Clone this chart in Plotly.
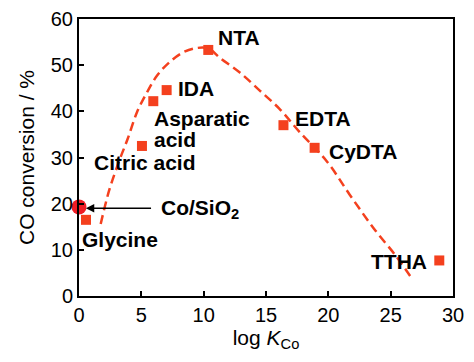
import plotly.graph_objects as go

# Data
ligands = ["Glycine", "Citric acid", "Asparatic acid", "IDA", "NTA", "EDTA", "CyDTA", "TTHA"]
log_k = [0.56, 5.05, 5.96, 7.03, 10.37, 16.4, 18.9, 28.9]
conversion = [16.5, 32.5, 42.2, 44.6, 53.3, 37.0, 32.1, 7.7]

ref_name = "Co/SiO2"
ref_x = [0.0]
ref_y = [19.3]

trend_x = [1.74, 2.4, 3.2, 3.9, 4.65, 5.45, 6.25, 7.2, 8.3, 9.4, 10.4, 11.3, 12.9, 14.5, 16.1, 17.7, 19.9, 21.7, 23.6, 25.5, 26.8]
trend_y = [15.6, 22.7, 29.1, 34.0, 39.8, 44.1, 47.7, 50.5, 52.7, 53.7, 53.6, 51.6, 48.4, 44.5, 40.5, 35.5, 29.1, 22.0, 14.8, 8.4, 3.4]

# label positions (left anchor x, center y)
label_text = ["Glycine", "Citric acid", "Asparatic", "acid", "IDA", "NTA", "EDTA", "CyDTA", "TTHA", "Co/SiO<sub>2</sub>"]
label_x = [0.1, 1.05, 5.85, 5.85, 7.8, 11.0, 17.2, 19.9, 23.3, 6.4]
label_y = [12.2, 28.9, 38.5, 34.0, 45.0, 55.9, 38.5, 31.4, 7.5, 18.8]

FONT = "Arial, Liberation Sans, sans-serif"

fig = go.Figure()
fig.add_trace(go.Scatter(x=trend_x, y=trend_y, mode="lines",
                         line=dict(color="#F4401E", width=2.5, dash="9px,5px", shape="spline", smoothing=1.0),
                         hoverinfo="skip", showlegend=False))
fig.add_trace(go.Scatter(x=log_k, y=conversion, mode="markers",
                         marker=dict(symbol="square", size=10, color="#F4401E"),
                         text=ligands, showlegend=False))
fig.add_trace(go.Scatter(x=ref_x, y=ref_y, mode="markers", cliponaxis=False,
                         marker=dict(symbol="circle", size=15, color="#EE1C25"),
                         name=ref_name, showlegend=False))

for t, x, y in zip(label_text, label_x, label_y):
    fig.add_annotation(x=x, y=y, text=f"<b>{t}</b>", showarrow=False, xanchor="left", yanchor="middle",
                       align="left", font=dict(family=FONT, size=21, color="black"))

fig.add_annotation(x=0.55, y=19.0, ax=5.9, ay=19.0, axref="x", ayref="y", text="",
                   showarrow=True, arrowhead=2, arrowsize=1.2, arrowwidth=1.4, arrowcolor="black")

# page body adds 8px offset; compensate
fig.update_layout(
    width=466, height=354,
    margin=dict(l=71, r=21, t=11, b=66),
    paper_bgcolor="white", plot_bgcolor="white",
    font=dict(family=FONT, size=19, color="black"),
)
fig.update_xaxes(range=[0, 30], tickvals=[0, 5, 10, 15, 20, 25, 30], showgrid=False, zeroline=False,
                 showline=True, linecolor="black", linewidth=2, mirror=True, automargin=False,
                 ticks="inside", ticklen=5, tickwidth=2, tickcolor="black",
                 tickfont=dict(size=20), ticklabeloverflow="allow",
                 title=dict(text="log <i>K</i><sub>Co</sub>", font=dict(size=21), standoff=4))
fig.update_yaxes(range=[0, 60], tickvals=[0, 10, 20, 30, 40, 50, 60], showgrid=False, zeroline=False,
                 showline=True, linecolor="black", linewidth=2, mirror=True, automargin=False,
                 ticks="inside", ticklen=5, tickwidth=2, tickcolor="black",
                 tickfont=dict(size=20), ticklabeloverflow="allow",
                 title=dict(text="CO conversion / %", font=dict(size=21), standoff=10))

fig.write_html("out.html")
